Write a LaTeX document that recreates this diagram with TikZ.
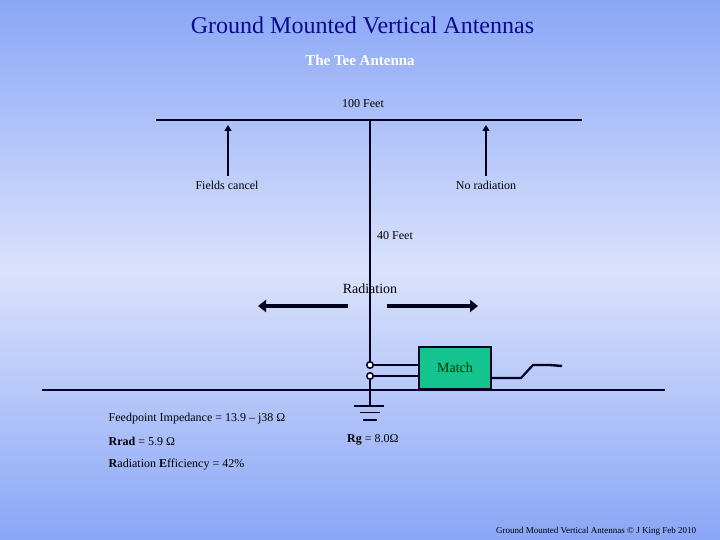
\documentclass[tikz,border=0pt]{standalone}
\usepackage{fontspec}
\setmainfont{Liberation Serif}
\usetikzlibrary{arrows.meta,shapes.geometric}
\definecolor{bgedge}{HTML}{8AA6F6}
\definecolor{bgmid}{HTML}{DAE2FB}
\definecolor{titleblue}{HTML}{0A0A8C}
\definecolor{matchgreen}{HTML}{14C38E}
\definecolor{ink}{HTML}{000020}
\tikzset{
  lbl/.style={inner sep=0pt,text=black,font=\fontsize{12}{14}\selectfont},
  wire/.style={draw=ink,line width=1.6pt},
  heavy/.style={draw=ink,line width=2.6pt},
  upar/.style={draw=ink,line width=1.3pt,-{Triangle[length=6pt,width=7pt]}},
  bigar/.style={draw=ink,line width=4.2pt,-{Triangle[length=8pt,width=12pt]}},
  term/.style={circle,draw=ink,fill=white,line width=1.6pt,minimum size=6.5pt,inner sep=0pt},
  gnd/.style={draw=ink,line width=1.8pt}
}
\begin{document}
\begin{tikzpicture}[x=1pt,y=-1pt]
\useasboundingbox (0,0) rectangle (720,540);
\fill[top color=bgedge,bottom color=bgmid] (0,0) rectangle (720,270);
\fill[top color=bgmid,bottom color=bgedge] (0,270) rectangle (720,540);

\node[inner sep=0pt,text=titleblue,font=\fontsize{24}{28}\selectfont] (title) at (362.5,25) {Ground Mounted Vertical Antennas};
\node[inner sep=0pt,text=white,font=\fontsize{15}{18}\selectfont\bfseries] (sub) at (360,60) {The Tee Antenna};
\node[lbl] (hundred) at (363,104) {100 Feet};
\node[lbl] (cancel) at (227,185) {Fields cancel};
\node[lbl] (norad) at (486,185) {No radiation};
\node[lbl] (forty) at (395,236) {40 Feet};

\coordinate (topL) at (156,120);
\coordinate (topR) at (582,120);
\coordinate (topM) at (370,120);
\coordinate (gndL) at (42,390);
\coordinate (gndR) at (665,390);
\draw[wire] (topL) -- (topR);
\draw[wire] (gndL) -- (gndR);

\node[term] (t1) at (370,365) {};
\node[term] (t2) at (370,376) {};
\draw[heavy] (topM) -- (t1);

\node[lbl,font=\fontsize{14}{16}\selectfont] (rad) at (370,288.5) {Radiation};

\coordinate (a1s) at (228,176);
\coordinate (a1e) at (228,125);
\coordinate (a2s) at (486,176);
\coordinate (a2e) at (486,125);
\draw[upar] (a1s) -- (a1e);
\draw[upar] (a2s) -- (a2e);

\coordinate (lS) at (348,306);
\coordinate (lE) at (258,306);
\coordinate (rS) at (387,306);
\coordinate (rE) at (478,306);
\draw[bigar] (lS) -- (lE);
\draw[bigar] (rS) -- (rE);

\node[draw=ink,line width=1.8pt,fill=matchgreen,minimum width=72pt,minimum height=42pt,inner sep=0pt,text=black!80!green,font=\fontsize{14}{16}\selectfont] (match) at (455,368) {Match};
\coordinate (mI1) at (match.west |- t1);
\coordinate (mI2) at (match.west |- t2);
\draw[wire] (t1) -- (mI1);
\draw[wire] (t2) -- (mI2);

\coordinate (o1) at (match.east |- 0,378);
\coordinate (o2) at (521,378);
\coordinate (o3) at (533,365);
\coordinate (o4) at (550,365);
\coordinate (o5) at (562,366);
\draw[draw=ink,line width=2.2pt] (o1) -- (o2) -- (o3) -- (o4);
\draw[draw=ink,line width=2.4pt] (o4) -- (o5);

\coordinate (g0) at (370,406);
\coordinate (g1L) at (354,406);
\coordinate (g1R) at (384,406);
\coordinate (g2L) at (360,412.5);
\coordinate (g2R) at (380,412.5);
\coordinate (g3L) at (363,420);
\coordinate (g3R) at (377,420);
\draw[wire] (t2) -- (g0);
\draw[gnd] (g1L) -- (g1R);
\draw[gnd] (g2L) -- (g2R);
\draw[gnd] (g3L) -- (g3R);

\node[lbl,anchor=west] (feed) at (108.5,419) {Feedpoint Impedance = 13.9 – j38 Ω};
\node[lbl,anchor=west] (rrad) at (108.5,441) {\textbf{Rrad} = 5.9 Ω};
\node[lbl,anchor=west] (eff) at (108.5,465) {\textbf{R}adiation \textbf{E}fficiency = 42\%};
\node[lbl,anchor=west] (rg) at (347,440) {\textbf{Rg} = 8.0Ω};
\node[lbl,anchor=west,font=\fontsize{9}{11}\selectfont] (foot) at (496,531) {Ground Mounted Vertical Antennas  © J King  Feb 2010};
\end{tikzpicture}
\end{document}
